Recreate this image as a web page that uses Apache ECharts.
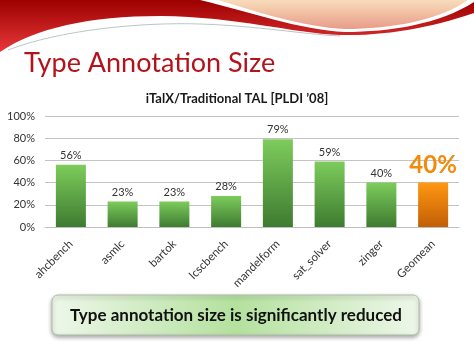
<!DOCTYPE html>
<html>
<head>
<meta charset="utf-8">
<script src="https://cdn.jsdelivr.net/npm/echarts@6/dist/echarts.min.js"></script>
<style>
  html, body { margin: 0; padding: 0; background: #fff; }
  #main { width: 474px; height: 355px; }
</style>
</head>
<body>
<div id="main"></div>
<script>
// benchmark names and annotation size ratio (%)
var categories = ['ahcbench', 'asmlc', 'bartok', 'lcscbench', 'mandelform', 'sat_solver', 'zinger', 'Geomean'];
var sizeRatio = [56, 23, 23, 28, 79, 59, 40, 40];
var highlightIndex = 7; // Geomean

var FONT = 'Lato, "Open Sans", sans-serif';

function vGrad(top, bottom) {
    return {
        type: 'linear', x: 0, y: 0, x2: 0, y2: 1,
        colorStops: [{ offset: 0, color: top }, { offset: 1, color: bottom }]
    };
}

// turn a start point + list of cubic segments into polygon points (header decoration)
function curvePoints(start, segs) {
    var pts = [start];
    var p0 = start;
    segs.forEach(function (s) {
        if (s.length === 1) { pts.push(s[0]); p0 = s[0]; return; }
        for (var k = 1; k <= 16; k++) {
            var t = k / 16, u = 1 - t;
            pts.push([
                u * u * u * p0[0] + 3 * u * u * t * s[0][0] + 3 * u * t * t * s[1][0] + t * t * t * s[2][0],
                u * u * u * p0[1] + 3 * u * u * t * s[0][1] + 3 * u * t * t * s[1][1] + t * t * t * s[2][1]
            ]);
        }
        p0 = s[2];
    });
    return pts;
}

var greenFill = vGrad('#7dcc5c', '#3e7b30');
var orangeFill = vGrad('#ff9812', '#c25e06');

var barData = sizeRatio.map(function (v, i) {
    if (i !== highlightIndex) return v;
    return {
        value: v,
        itemStyle: { color: orangeFill },
        label: { fontSize: 24, fontWeight: 'bold', color: '#f28a0c', distance: 5 }
    };
});

var myChart = echarts.init(document.getElementById('main'));
myChart.setOption({
    animation: false,
    title: {
        text: 'iTalX/Traditional TAL [PLDI \u201908]',
        left: 'center',
        top: 87,
        textStyle: { fontFamily: FONT, fontSize: 13, fontWeight: 'bold', color: '#1a1a1a' }
    },
    grid: { left: 45, right: 15, top: 116, height: 111 },
    xAxis: {
        type: 'category',
        data: categories,
        axisLine: { lineStyle: { color: '#bfbfbf' } },
        axisTick: { show: false },
        axisLabel: { rotate: 45, fontFamily: FONT, fontSize: 11.5, color: '#333', margin: 15, interval: 0 }
    },
    yAxis: {
        type: 'value',
        min: 0,
        max: 100,
        interval: 20,
        axisLabel: { formatter: '{value}%', fontFamily: FONT, fontSize: 11, color: '#333', margin: 10 },
        splitLine: { lineStyle: { color: '#c4c4c4' } },
        axisLine: { show: false },
        axisTick: { show: false }
    },
    series: [{
        type: 'bar',
        barWidth: 30,
        data: barData,
        itemStyle: { color: greenFill },
        label: {
            show: true,
            position: 'top',
            formatter: '{c}%',
            fontFamily: FONT,
            fontSize: 11,
            color: '#333',
            distance: 4
        }
    }],
    graphic: [
        // red header swoosh
        {
            type: 'polygon',
            shape: { points: curvePoints([0, 0], [[[474, 0]], [[474, 13]],
                [[430, 28], [385, 36], [340, 35]],
                [[290, 33], [240, 17], [160, 16]],
                [[90, 16], [35, 28], [0, 52]]]) },
            style: { fill: vGrad('#9c0000', '#e8383a') }
        },
        // thin grey line under swoosh
        {
            type: 'polyline',
            shape: { points: curvePoints([8, 50], [[[60, 30], [140, 22], [200, 24]], [[260, 26], [300, 34], [340, 36]]]) },
            style: { fill: null, stroke: '#b9c6c6', lineWidth: 1 }
        },
        // white edge around the peach panel
        {
            type: 'polygon',
            shape: { points: curvePoints([200, 0], [[[474, 0]], [[474, 2]],
                [[440, 24], [390, 32], [345, 32]],
                [[300, 30], [250, 12], [200, 0]]]) },
            style: { fill: '#ffffff' }
        },
        // peach panel
        {
            type: 'polygon',
            shape: { points: curvePoints([218, 0], [[[468, 0]],
                [[440, 20], [392, 29], [345, 29]],
                [[302, 27], [258, 12], [218, 0]]]) },
            style: { fill: vGrad('#f8dcbb', '#e89c88') }
        },
        // slide title
        {
            type: 'text',
            left: 24,
            top: 50,
            style: { text: 'Type Annotation Size', fontFamily: FONT, fontSize: 27, fill: '#b3141c' }
        },
        // callout box
        {
            type: 'rect',
            shape: { x: 52, y: 295, width: 367, height: 40, r: 6 },
            style: {
                fill: {
                    type: 'linear', x: 0, y: 0, x2: 1, y2: 0,
                    colorStops: [
                        { offset: 0, color: '#eef7ea' },
                        { offset: 0.5, color: '#b4e19e' },
                        { offset: 1, color: '#eef7ea' }
                    ]
                },
                stroke: '#b0bca8',
                lineWidth: 1,
                shadowBlur: 4,
                shadowOffsetY: 2,
                shadowColor: 'rgba(0,0,0,0.35)'
            }
        },
        {
            type: 'text',
            x: 236,
            y: 316,
            style: {
                text: 'Type annotation size is significantly reduced',
                fontFamily: FONT,
                fontSize: 17,
                fontWeight: 'bold',
                fill: '#111',
                align: 'center',
                verticalAlign: 'middle'
            }
        }
    ]
});
</script>
</body>
</html>
